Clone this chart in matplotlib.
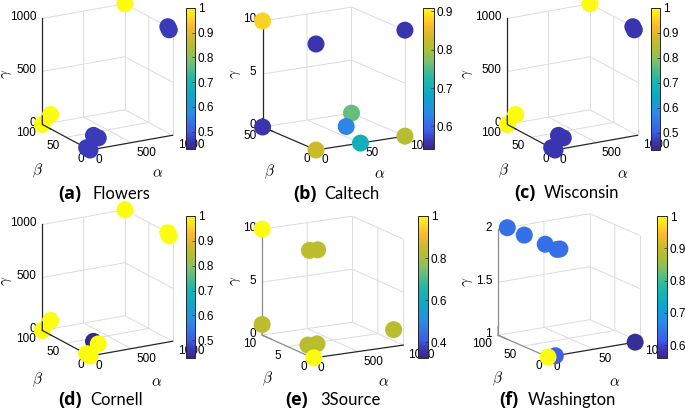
import matplotlib
matplotlib.use("Agg")
import matplotlib.pyplot as plt
from matplotlib.cm import ScalarMappable
from matplotlib.colors import LinearSegmentedColormap, Normalize
from mpl_toolkits.mplot3d import proj3d

plt.rcParams["font.family"] = ["Liberation Sans", "DejaVu Sans"]
plt.rcParams["mathtext.fontset"] = "cm"

W, H = 685, 411

# --- data ---
# Flowers, Wisconsin and Cornell share one parameter grid
GRID_ALPHA = [1000, 1000, 960, 0, 100, 100, 100, 0, 0]
GRID_BETA = [100, 10, 0, 100, 100, 10, 0, 7, 0]
GRID_GAMMA = [1000, 1000, 1000, 0, 80, 100, 100, 5, 0]
FLOWERS_ACC = [1, 0.47, 0.47, 1, 1, 0.47, 0.47, 0.47, 0.47]
WISCONSIN_ACC = [1, 0.46, 0.46, 1, 1, 0.46, 0.46, 0.46, 0.46]
CORNELL_ACC = [1, 1, 1, 1, 1, 0.43, 1, 1, 1]

CALTECH_ALPHA = [0, 0, 100, 0, 0, 50, 100, 100, 70]
CALTECH_BETA = [50, 0, 0, 50, 0, 0, 0, 50, 30]
CALTECH_GAMMA = [10, 10, 10, 0, 0, 0, 0, 0, 0]
CALTECH_ACC = [0.88, 0.56, 0.56, 0.56, 0.83, 0.70, 0.81, 0.76, 0.63]

SOURCE_ALPHA = [0, 0, 80, 0, 950, 0, 100, 10]
SOURCE_BETA = [10, 0.7, 0.5, 10, 1, 1, 1, 0]
SOURCE_GAMMA = [10, 10, 10, 1, 1.3, 1, 1, 0]
SOURCE_ACC = [1, 0.83, 0.83, 0.83, 0.83, 0.83, 0.83, 1]

WASH_ALPHA = [10, 10, 10, 10, 13, 0, 8, 95]
WASH_BETA = [100, 66, 24, 0, 0, 0, 0, 0]
WASH_GAMMA = [2, 2, 2, 2, 2, 1, 1, 1]
WASH_ACC = [0.64, 0.64, 0.64, 0.64, 0.64, 1, 0.62, 0.57]

PARULA = [(0, "#352a87"), (0.06, "#3b37b5"), (0.125, "#3f5ce8"), (0.25, "#2a8ae8"),
          (0.375, "#0aa8cb"), (0.5, "#1fb8a8"), (0.625, "#7cc070"), (0.7, "#a8c038"),
          (0.78, "#c8ba2a"), (0.875, "#fdb92f"), (1, "#fcfc10")]
cmap = LinearSegmentedColormap.from_list("parula", PARULA)

DARK = "#262626"
GREY = "#8c8c8c"
GRID = "#dcdcdc"

PANELS = [
    dict(a=GRID_ALPHA, b=GRID_BETA, g=GRID_GAMMA, c=FLOWERS_ACC,
         at=[0, 500, 1000], bt=[0, 50, 100], gt=[0, 500, 1000],
         clim=(0.43, 1), cticks=[0.5, 0.6, 0.7, 0.8, 0.9, 1],
         front=(90, 150), box=(95, 95, 111), el=18, az=-120,
         cbar=(186, 195, 8, 149), head="(a)", name="Flowers",
         hx=(58, 92), hy=199, alab=(158, 173), blab=(38, 171), glab=(7, 74),
         left=DARK, left_z=4),
    dict(a=CALTECH_ALPHA, b=CALTECH_BETA, g=CALTECH_GAMMA, c=CALTECH_ACC,
         at=[0, 50, 100], bt=[0, 50], gt=[0, 5, 10],
         clim=(0.541, 0.909), cticks=[0.6, 0.7, 0.8, 0.9],
         front=(316, 150), box=(104, 104, 110), el=15, az=-121,
         cbar=(423, 434, 8, 149), head="(b)", name="Caltech",
         hx=(293, 324), hy=199, alab=(380, 174), blab=(269, 172), glab=(236, 74),
         left=DARK, left_z=2),
    dict(a=GRID_ALPHA, b=GRID_BETA, g=GRID_GAMMA, c=WISCONSIN_ACC,
         at=[0, 500, 1000], bt=[0, 50, 100], gt=[0, 500, 1000],
         clim=(0.43, 1), cticks=[0.5, 0.6, 0.7, 0.8, 0.9, 1],
         front=(555, 150), box=(95, 95, 111), el=18, az=-120,
         cbar=(651, 660, 8, 150), head="(c)", name="Wisconsin",
         hx=(514, 544), hy=198, alab=(623, 174), blab=(503, 171), glab=(468, 74),
         left=DARK, left_z=4),
    dict(a=GRID_ALPHA, b=GRID_BETA, g=GRID_GAMMA, c=CORNELL_ACC,
         at=[0, 500, 1000], bt=[0, 50, 100], gt=[0, 500, 1000],
         clim=(0.429, 1), cticks=[0.5, 0.6, 0.7, 0.8, 0.9, 1],
         front=(90, 356), box=(95, 95, 111), el=18, az=-120,
         cbar=(186, 195, 216, 358), head="(d)", name="Cornell",
         hx=(58, 90), hy=405, alab=(157, 382), blab=(38, 380), glab=(7, 281),
         left=DARK, left_z=4),
    dict(a=SOURCE_ALPHA, b=SOURCE_BETA, g=SOURCE_GAMMA, c=SOURCE_ACC,
         at=[0, 500, 1000], bt=[0, 5, 10], gt=[0, 5, 10],
         clim=(0.324, 1), cticks=[0.4, 0.6, 0.8, 1],
         front=(313, 358), box=(104, 104, 110), el=14.7, az=-119.4,
         cbar=(418, 428, 216, 358), head="(e)", name="3Source",
         hx=(285, 320), hy=405, alab=(384, 382), blab=(268, 379), glab=(236, 281),
         left=GREY, left_z=2),
    dict(a=WASH_ALPHA, b=WASH_BETA, g=WASH_GAMMA, c=WASH_ACC,
         at=[0, 50, 100], bt=[0, 50, 100], gt=[1, 1.5, 2],
         clim=(0.56, 1), cticks=[0.6, 0.7, 0.8, 0.9, 1],
         front=(548, 357), box=(108, 94, 110), el=15.8, az=-122,
         cbar=(657, 667, 216, 358), head="(f)", name="Washington",
         hx=(499, 528), hy=405, alab=(615, 382), blab=(497, 379), glab=(468, 282),
         left=GREY, left_z=2),
]


def to_px(ax, x, y, z):
    # data point -> picture pixels (origin top left)
    sx, sy, _ = proj3d.proj_transform(x, y, z, ax.get_proj())
    px, py = ax.transData.transform((sx, sy))
    return px, H - py


def label(x, y, s, **kw):
    # zorder below the axes, the markers and colorbars sit on top of labels
    return fig.text(x / W, 1 - y / H, s, zorder=-1, **kw)


fig = plt.figure(figsize=(W / 100, H / 100), dpi=100)

for p in PANELS:
    side = 300
    ax = fig.add_axes([0.1, 0.1, side / W, side / H], projection="3d", proj_type="ortho")
    ax.computed_zorder = False
    ax.set_axis_off()
    ax.patch.set_visible(False)
    ax.view_init(elev=p["el"], azim=p["az"])

    x0, x1 = p["at"][0], p["at"][-1]
    y0, y1 = p["bt"][0], p["bt"][-1]
    z0, z1 = p["gt"][0], p["gt"][-1]
    ax.set_xlim(x0, x1)
    ax.set_ylim(y0, y1)
    ax.set_zlim(z0, z1)

    # scale so that the gamma edge gets its height, then move the front corner in place
    ax.set_box_aspect(p["box"], zoom=1)
    h1 = abs(to_px(ax, x0, y0, z1)[1] - to_px(ax, x0, y0, z0)[1])
    ax.set_box_aspect(p["box"], zoom=106 / h1)
    fx, fy = to_px(ax, x0, y0, z0)
    ax.set_position([(0.1 * W + p["front"][0] - fx) / W,
                     0.1 + (fy - p["front"][1]) / H,
                     side / W, side / H])

    # grey walls and floor
    grid_kw = dict(color=GRID, lw=0.7, zorder=1, solid_capstyle="butt")
    xm, zm = p["at"][1], p["gt"][1]
    ax.plot([x0, x1, x1], [y1, y1, y0], [z1, z1, z1], **grid_kw)
    ax.plot([x0, x1, x1], [y1, y1, y0], [zm, zm, zm], **grid_kw)
    ax.plot([x1, x1], [y1, y1], [z0, z1], **grid_kw)
    ax.plot([x1, x1], [y0, y0], [z0, z1], **grid_kw)
    ax.plot([x0, x1, x1], [y1, y1, y0], [z0, z0, z0], **grid_kw)
    ax.plot([xm, xm, xm], [y0, y1, y1], [z0, z0, z1], **grid_kw)
    if len(p["bt"]) > 2:
        ym = p["bt"][1]
        ax.plot([x0, x1, x1], [ym, ym, ym], [z0, z0, z1], **grid_kw)

    # the three axes
    ax.plot([x0, x0], [y1, y1], [z0, z1], color=p["left"], lw=0.9, zorder=2)
    ax.plot([x0, x0], [y0, y1], [z0, z0], color=p["left"], lw=0.9, zorder=2)
    ax.plot([x0, x1], [y0, y0], [z0, z0], color=DARK, lw=0.9, zorder=2)
    # near the back left corner the axis lines show through the marker
    ybit = y1 - 0.18 * (y1 - y0)
    zbit = z0 + 0.08 * (z1 - z0)
    ax.plot([x0, x0, x0], [ybit, y1, y1], [z0, z0, zbit], color=p["left"], lw=0.9, zorder=p["left_z"])

    norm = Normalize(*p["clim"])
    ax.scatter(p["a"], p["b"], p["g"], c=p["c"], cmap=cmap, norm=norm, s=150,
               linewidths=0, depthshade=False, zorder=3, clip_on=False)

    # tick labels
    for t in p["gt"]:
        px, py = to_px(ax, x0, y1, t)
        label(px - 6, py - 1.5, f"{t:g}", ha="right", va="center", fontsize=8.5)
    for t in p["bt"]:
        px, py = to_px(ax, x0, t, z0)
        label(px - 6, py + 9, f"{t:g}", ha="right", va="center", fontsize=8.5)
    for t in p["at"]:
        px, py = to_px(ax, t, y0, z0)
        label(px + 5, py + 10, f"{t:g}", ha="left", va="center", fontsize=8.5)

    label(*p["alab"], r"$\alpha$", ha="center", va="center", fontsize=11)
    label(*p["blab"], r"$\beta$", ha="center", va="center", fontsize=11)
    label(*p["glab"], r"$\gamma$", ha="center", va="center", fontsize=11, rotation=90)

    # colorbar
    cx0, cx1, cy0, cy1 = p["cbar"]
    cax = fig.add_axes([cx0 / W, 1 - cy1 / H, (cx1 - cx0) / W, (cy1 - cy0) / H], zorder=5)
    cb = fig.colorbar(ScalarMappable(norm=norm, cmap=cmap), cax=cax, ticks=p["cticks"])
    cb.ax.set_yticklabels([f"{t:g}" for t in p["cticks"]])
    cb.ax.tick_params(direction="in", length=2, width=0.5, labelsize=8.5, pad=2, color=DARK)
    cb.outline.set_linewidth(0.7)
    cb.outline.set_edgecolor(DARK)

    # sub captions
    fig.text(p["hx"][0] / W, 1 - p["hy"] / H, p["head"], family="Open Sans",
             fontweight="bold", fontsize=13, ha="left", va="baseline")
    fig.text(p["hx"][1] / W, 1 - p["hy"] / H, p["name"], family="Lato",
             fontsize=12, ha="left", va="baseline")

fig.savefig("out.png", dpi=100)
